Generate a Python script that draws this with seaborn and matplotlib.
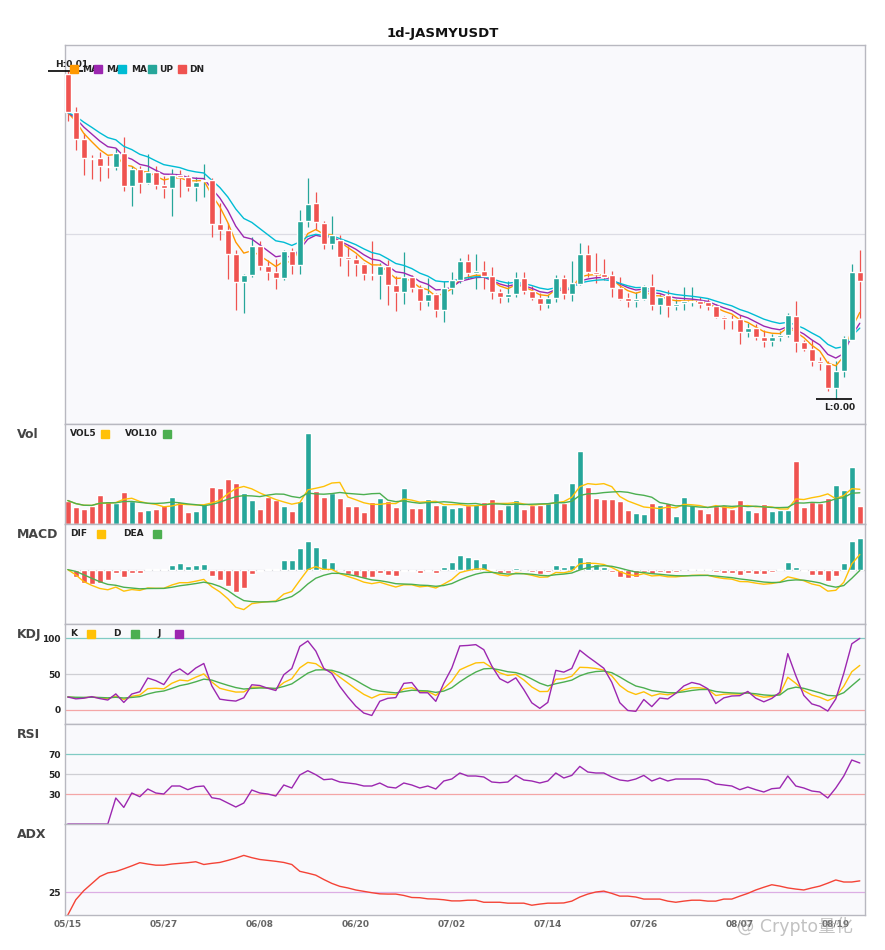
import numpy as np
import pandas as pd
import matplotlib.pyplot as plt
from matplotlib.patches import Rectangle
import seaborn as sns

# daily candles 05/15 .. 08/22, prices in 1e-5 USDT
opens = np.array([
    820, 743, 690, 652, 652, 636, 635, 662, 597, 630,
    603, 624, 598, 593, 618, 613, 595, 607, 608, 520,
    507, 460, 405, 418, 476, 437, 425, 413, 466, 439,
    526, 563, 523, 481, 488, 454, 450, 440, 421, 418,
    437, 398, 384, 414, 393, 367, 380, 349, 393, 408,
    446, 423, 426, 416, 385, 375, 380, 413, 387, 373,
    361, 373, 413, 381, 401, 460, 424, 420, 418, 393,
    372, 367, 371, 396, 358, 378, 356, 363, 365, 367,
    363, 356, 335, 331, 329, 305, 313, 295, 287, 295,
    299, 336, 285, 271, 246, 241, 193, 226, 288, 425]) * 1e-5
closes = np.array([
    743, 690, 653, 651, 637, 635, 662, 597, 630, 603,
    624, 598, 593, 618, 615, 595, 605, 609, 520, 507,
    460, 405, 418, 476, 437, 425, 413, 466, 439, 526,
    561, 525, 481, 497, 455, 451, 440, 420, 419, 437,
    398, 384, 414, 393, 367, 380, 349, 393, 408, 446,
    423, 426, 416, 385, 375, 380, 413, 387, 373, 361,
    373, 413, 381, 401, 460, 425, 421, 415, 393, 371,
    367, 371, 396, 358, 375, 356, 361, 366, 366, 361,
    356, 335, 331, 329, 305, 313, 295, 287, 295, 299,
    338, 285, 271, 247, 243, 193, 226, 293, 423, 407]) * 1e-5
highs = np.array([
    826, 753, 701, 658, 663, 655, 671, 693, 635, 635,
    660, 635, 615, 629, 628, 617, 613, 640, 611, 561,
    521, 468, 421, 493, 485, 448, 451, 468, 471, 548,
    611, 583, 526, 535, 498, 476, 458, 441, 486, 441,
    449, 416, 463, 418, 398, 413, 381, 405, 423, 453,
    460, 460, 447, 433, 391, 405, 423, 423, 395, 381,
    378, 418, 418, 447, 481, 478, 461, 451, 426, 415,
    381, 383, 398, 420, 380, 389, 371, 393, 393, 375,
    371, 360, 336, 338, 338, 323, 321, 308, 301, 306,
    343, 365, 288, 288, 255, 245, 245, 296, 440, 467]) * 1e-5
lows = np.array([
    725, 667, 617, 609, 605, 611, 628, 585, 555, 581,
    600, 589, 571, 535, 573, 585, 565, 573, 493, 488,
    411, 347, 343, 415, 428, 408, 391, 408, 421, 421,
    513, 508, 470, 470, 435, 416, 416, 407, 408, 370,
    358, 345, 360, 384, 348, 356, 335, 325, 380, 401,
    411, 391, 391, 371, 361, 363, 375, 380, 368, 347,
    353, 363, 371, 365, 398, 415, 401, 408, 375, 368,
    355, 355, 368, 348, 341, 335, 348, 348, 356, 353,
    348, 333, 310, 311, 281, 295, 288, 275, 277, 286,
    295, 265, 267, 236, 228, 187, 171, 215, 288, 333]) * 1e-5
volumes = np.array([
    233, 173, 153, 180, 293, 233, 207, 313, 233, 133,
    143, 153, 193, 273, 223, 123, 133, 203, 363, 353,
    443, 403, 303, 243, 153, 273, 243, 183, 133, 233,
    903, 323, 273, 303, 263, 183, 183, 123, 223, 263,
    233, 173, 353, 163, 163, 253, 193, 193, 163, 165,
    188, 203, 223, 253, 153, 193, 243, 153, 193, 193,
    213, 303, 213, 403, 723, 363, 263, 253, 253, 233,
    143, 113, 103, 213, 193, 213, 83, 273, 193, 153,
    113, 183, 193, 153, 243, 143, 123, 203, 133, 143,
    143, 623, 173, 223, 213, 263, 383, 333, 563, 183]) * 1e6
rsi = np.array([
    0, 0, 0, 0, 0, 0, 26, 16.6, 31, 27.3,
    35, 31, 30, 38, 38, 34.3, 37.3, 38, 26.3, 25,
    21, 17, 21, 34, 31, 30, 28, 39, 36, 49,
    53.3, 49.3, 44.3, 45, 42, 41, 40, 38, 38, 41,
    37, 36, 41, 39, 36, 38, 35, 43, 45, 51,
    48, 48, 47, 42, 41.3, 42, 48.6, 44, 43, 41,
    43, 51, 46, 48.6, 57.6, 52, 51, 51, 47, 44,
    43, 45, 48.6, 43, 46, 43, 45, 45, 45, 45,
    44, 40, 39, 38, 34.3, 37, 34.3, 32, 35.3, 36,
    48, 38, 36, 33, 32, 26, 36, 48, 64, 61])
adx = np.array([
    15.0, 21.7, 25.7, 28.8, 31.9, 33.5, 34.1, 35.3, 36.6, 38.0,
    37.4, 36.9, 36.9, 37.4, 37.7, 38.0, 38.4, 37.2, 37.7, 38.1,
    39.0, 40.0, 41.2, 40.2, 39.4, 39.0, 38.6, 38.1, 37.2, 34.2,
    33.4, 32.5, 30.6, 28.9, 27.6, 26.9, 26.0, 25.4, 24.8, 24.3,
    24.2, 24.2, 23.6, 22.7, 22.6, 22.1, 22.0, 21.7, 21.2, 21.2,
    21.5, 21.5, 20.6, 20.6, 20.6, 20.2, 20.2, 20.2, 19.3, 19.8,
    20.2, 20.2, 20.3, 21.1, 22.9, 24.2, 25.1, 25.5, 24.5, 23.3,
    23.3, 22.9, 22.0, 22.0, 22.0, 21.1, 20.6, 21.1, 21.5, 21.5,
    21.1, 21.1, 22.0, 22.0, 23.3, 24.5, 26.0, 27.2, 28.3, 27.7,
    26.9, 26.4, 26.0, 26.9, 27.7, 29.0, 30.4, 29.5, 29.5, 30.0])
tick_pos = [0, 12, 24, 36, 48, 60, 72, 84, 96]
tick_labels = ['05/15', '05/27', '06/08', '06/20', '07/02', '07/14', '07/26', '08/07', '08/19']

UP, DN = '#26a69a', '#ef5350'
YEL, GRN, PUR, ORG, CYA = '#ffc107', '#4caf50', '#9c27b0', '#ff9800', '#00bcd4'

sns.set_theme(style='white')
plt.rcParams['font.family'] = ['DejaVu Sans', 'Noto Sans CJK SC']

idx = np.arange(len(closes))
c = pd.Series(closes)
h = pd.Series(highs)
l = pd.Series(lows)
v = pd.Series(volumes)

# indicators
ma5 = c.ewm(span=5, adjust=False).mean()
ma8 = c.ewm(span=8, adjust=False).mean()
ma13 = c.ewm(span=13, adjust=False).mean()
vol5 = v.rolling(5, min_periods=1).mean()
vol10 = v.rolling(10, min_periods=1).mean()
dif = c.ewm(span=6, adjust=False).mean() - c.ewm(span=13, adjust=False).mean()
dea = dif.ewm(span=5, adjust=False).mean()
hist = 2 * (dif - dea)
llv = l.rolling(9, min_periods=1).min()
hhv = h.rolling(9, min_periods=1).max()
rsv = (c - llv) / (hhv - llv) * 100
k = rsv.ewm(com=2, adjust=False).mean()
d = k.ewm(com=2, adjust=False).mean()
j = 3 * k - 2 * d

W, H = 885, 950
fig = plt.figure(figsize=(W / 100, H / 100), dpi=100)


def fx(x):
    return x / W


def fy(y):
    return 1 - y / H


def panel(top, bottom):
    ax = fig.add_axes([fx(65), fy(bottom), (865 - 65) / W, (bottom - top) / H])
    ax.set_facecolor('#f9f9fc')
    for s in ax.spines.values():
        s.set_color('#b8b8c0')
        s.set_linewidth(1)
    ax.set_xlim(-0.35, 99.65)
    ax.set_xticks([])
    ax.tick_params(length=0, pad=3)
    return ax


def line(ax, y, col, lw=1.0):
    sns.lineplot(x=idx, y=np.asarray(y), ax=ax, color=col, linewidth=lw, legend=False)
    ax.set_ylabel('')


ax_p = panel(45, 424)
ax_v = panel(424, 524)
ax_m = panel(524, 624)
ax_k = panel(624, 724)
ax_r = panel(724, 824)
ax_a = panel(824, 915)

# price
cols = np.where(closes >= opens, UP, DN)
ax_p.axhline(0.005, color='#dcdce4', lw=0.9, zorder=0)
ax_p.vlines(idx, lows, highs, colors=cols, lw=0.9, zorder=2)
ax_p.bar(idx, np.maximum(np.abs(closes - opens), 1.2e-5), bottom=np.minimum(opens, closes),
         width=0.72, color=cols, zorder=3)
line(ax_p, ma5, ORG)
line(ax_p, ma8, PUR)
line(ax_p, ma13, CYA)
ax_p.set_ylim(0.00120, 0.00878)
ax_p.set_yticks([])
ih, il = int(np.argmax(highs)), int(np.argmin(lows))
ax_p.hlines(highs[ih], ih - 2.5, ih + 1.9, color='black', lw=1.2, clip_on=False, zorder=5)
ax_p.text(ih + 0.5, highs[ih] + 4e-5, f'H:{highs[ih]:.2f}', ha='center', va='bottom',
          fontsize=6.5, fontweight='bold', color='#222222', clip_on=False)
ax_p.hlines(lows[il], il - 2.5, il + 2.0, color='black', lw=1.2, zorder=5)
ax_p.text(il + 0.45, lows[il] - 9e-5, f'L:{lows[il]:.2f}', ha='center', va='top',
          fontsize=6.5, fontweight='bold', color='#222222')

# volume
ax_v.bar(idx, volumes, width=0.72, color=cols, zorder=2)
line(ax_v, vol5, YEL)
line(ax_v, vol10, GRN)
ax_v.set_ylim(0, volumes.max() * 1.1)
ax_v.set_yticks([])

# macd
ax_m.axhline(0, color='#d0d0d6', lw=0.9, zorder=0)
ax_m.bar(idx, hist, width=0.72, color=np.where(hist >= 0, UP, DN), zorder=2)
line(ax_m, dif, YEL)
line(ax_m, dea, GRN)
s = -dif.min() / 39.7
ax_m.set_ylim(-54 * s, 45.3 * s)
ax_m.set_yticks([])

# kdj
for yv, cc in [(100, '#80cbc4'), (50, '#cfcfd4'), (0, '#f4a6a6')]:
    ax_k.axhline(yv, color=cc, lw=0.9, zorder=0)
line(ax_k, k, YEL)
line(ax_k, d, GRN)
line(ax_k, j, PUR)
ax_k.set_ylim(-20, 120)
ax_k.set_yticks([0, 50, 100])

# rsi
for yv, cc in [(70, '#80cbc4'), (50, '#cfcfd4'), (30, '#f4a6a6')]:
    ax_r.axhline(yv, color=cc, lw=0.9, zorder=0)
line(ax_r, rsi, PUR)
ax_r.set_ylim(0, 100)
ax_r.set_yticks([30, 50, 70])

# adx
ax_a.axhline(25, color='#dcaee4', lw=0.9, zorder=0)
line(ax_a, adx, '#f44336')
ax_a.set_ylim(15, 55)
ax_a.set_yticks([25])
ax_a.set_xticks(tick_pos)
ax_a.set_xticklabels(tick_labels)

for ax in (ax_k, ax_r, ax_a):
    for t in ax.get_yticklabels():
        t.set_fontsize(6.5)
        t.set_fontweight('bold')
        t.set_color('#222222')
for t in ax_a.get_xticklabels():
    t.set_fontsize(6.5)
    t.set_fontweight('bold')
    t.set_color('#666666')

# titles and panel names
fig.text(fx(443), fy(34), '1d-JASMYUSDT', ha='center', va='center', fontsize=9.5, fontweight='bold', color='#111111')
for name, yy in [('Vol', 434.5), ('MACD', 534.5), ('KDJ', 634.5), ('RSI', 734.5), ('ADX', 834.5)]:
    fig.text(fx(17), fy(yy), name, ha='left', va='center', fontsize=9, fontweight='bold', color='#444444')


def square(x, y, col):
    fig.add_artist(Rectangle((fx(x), fy(y + 8)), 8 / W, 8 / H, transform=fig.transFigure,
                             color=col, zorder=6))


def label(x, y, txt):
    fig.text(fx(x), fy(y), txt, ha='left', va='center', fontsize=6.5, fontweight='bold',
             color='#222222', zorder=5)


# legends
for xs, xt, col, txt in [(70, 82, ORG, 'MA'), (94, 106, PUR, 'MA'), (118, 131, CYA, 'MA'),
                         (148, 159, UP, 'UP'), (178, 189, DN, 'DN')]:
    label(xt, 69, txt)
    square(xs, 65, col)
for xt, xs, col, txt in [(70, 101, YEL, 'VOL5'), (125, 163, GRN, 'VOL10')]:
    label(xt, 434, txt)
    square(xs, 430, col)
for xt, xs, col, txt in [(70, 97, YEL, 'DIF'), (123, 153, GRN, 'DEA')]:
    label(xt, 534, txt)
    square(xs, 530, col)
for xt, xs, col, txt in [(70, 87, YEL, 'K'), (113, 131, GRN, 'D'), (157, 175, PUR, 'J')]:
    label(xt, 634, txt)
    square(xs, 630, col)

# watermark
fig.text(fx(737), fy(926), '@ Crypto量化', ha='left', va='center', fontsize=12.5,
         color='#9a9a9a', alpha=0.6, zorder=7)

fig.savefig('out.png', dpi=100)
